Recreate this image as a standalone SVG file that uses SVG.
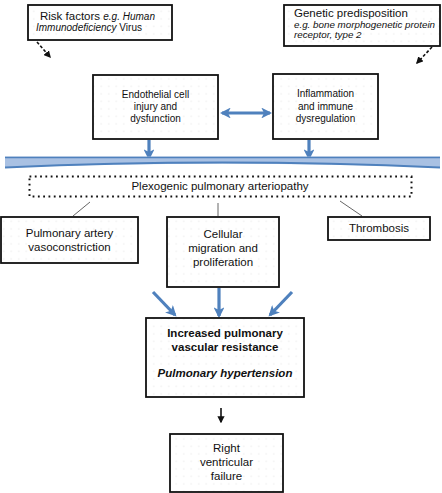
<svg xmlns="http://www.w3.org/2000/svg" width="442" height="493" viewBox="0 0 442 493">
<style>
text{font-family:"Liberation Sans",Arial,sans-serif;fill:#111;}
.box{fill:url(#dots);stroke:#111;stroke-width:1.8;}
.t{font-size:11.5px;text-anchor:middle;}
.s{font-size:10px;text-anchor:middle;}
.b{font-weight:bold;}
.i{font-style:italic;}
.blue{stroke:#4f81bd;stroke-width:3.2;fill:none;}
.thin{stroke:#666;stroke-width:1;fill:none;}
.dash{stroke:#111;stroke-width:1.6;stroke-dasharray:3 2;fill:none;}
</style>
<defs>
<pattern id="dots" width="7.5" height="7.5" patternUnits="userSpaceOnUse">
<rect width="7.5" height="7.5" fill="#fff"/>
<circle cx="3.75" cy="3.75" r="0.5" fill="#d6d6d6"/>
</pattern>
<marker id="bh" viewBox="0 0 10 10" refX="8" refY="5" markerWidth="3.4" markerHeight="3.4" orient="auto-start-reverse" markerUnits="strokeWidth">
<path d="M0,0 L10,5 L0,10 L2.5,5 Z" fill="#4f81bd"/>
</marker>
<marker id="kh" viewBox="0 0 10 10" refX="8" refY="5" markerWidth="4.5" markerHeight="4.5" orient="auto" markerUnits="strokeWidth">
<path d="M0,0 L10,5 L0,10 Z" fill="#111"/>
</marker>
</defs>

<g id="connectors">
<line class="dash" x1="37" y1="42" x2="50" y2="57" marker-end="url(#kh)"/>
<line class="dash" x1="432" y1="47" x2="417" y2="63" marker-end="url(#kh)"/>
<line class="blue" x1="222" y1="113" x2="270" y2="113" marker-start="url(#bh)" marker-end="url(#bh)"/>
<line class="blue" x1="149" y1="140" x2="149" y2="158" marker-end="url(#bh)"/>
<line class="blue" x1="309" y1="140" x2="309" y2="158" marker-end="url(#bh)"/>
<line class="thin" x1="90" y1="202" x2="73" y2="216"/>
<line class="thin" x1="218" y1="203" x2="218" y2="216"/>
<line class="thin" x1="340" y1="201" x2="362" y2="216"/>
<line class="blue" x1="153" y1="292" x2="175" y2="315" marker-end="url(#bh)"/>
<line class="blue" x1="219" y1="288" x2="219" y2="316" marker-end="url(#bh)"/>
<line class="blue" x1="292" y1="292" x2="270" y2="315" marker-end="url(#bh)"/>
<line x1="221" y1="408" x2="221" y2="422" stroke="#111" stroke-width="1.6" marker-end="url(#kh)"/>
</g>

<g id="band">
<path d="M5,156.5 L440,156.5 L440,167 Q222,160 5,167 Z" fill="#a9c1e3"/>
<line x1="5" y1="157.5" x2="440" y2="157.5" stroke="#4f81bd" stroke-width="1.6"/>
<path d="M5,167.5 Q222,157.5 440,167.5" stroke="#4f81bd" stroke-width="2" fill="none"/>
</g>

<g id="risk">
<rect class="box" x="28" y="5" width="144" height="35"/>
<text x="40" y="20" style="font-size:11.5px">Risk factors <tspan class="i" style="font-size:10px">e.g. Human</tspan></text>
<text x="36" y="31" style="font-size:10px"><tspan class="i">Immunodeficiency</tspan> Virus</text>
</g>

<g id="genetic">
<rect class="box" x="284" y="5" width="156" height="41"/>
<text x="294" y="17" style="font-size:11.5px">Genetic predisposition</text>
<text x="294" y="27.5" class="i" style="font-size:9.8px">e.g. bone morphogenetic protein</text>
<text x="294" y="37.5" class="i" style="font-size:9.8px">receptor, type 2</text>
</g>

<g id="endothelial">
<rect class="box" x="93" y="75" width="125" height="64"/>
<text class="s" x="155.5" y="98">Endothelial cell</text>
<text class="s" x="155.5" y="110">injury and</text>
<text class="s" x="155.5" y="122">dysfunction</text>
</g>

<g id="inflammation">
<rect class="box" x="273" y="74" width="105" height="65"/>
<text class="s" x="325.5" y="97">Inflammation</text>
<text class="s" x="325.5" y="109.5">and immune</text>
<text class="s" x="325.5" y="122">dysregulation</text>
</g>

<g id="plexogenic">
<rect x="29.5" y="176.5" width="382" height="20" fill="none" stroke="#111" stroke-width="2" stroke-dasharray="1.8 3.5"/>
<text class="t" x="220" y="190">Plexogenic pulmonary arteriopathy</text>
</g>

<g id="vasoconstriction">
<rect class="box" x="1" y="217" width="137" height="46"/>
<text class="t" x="69.5" y="237">Pulmonary artery</text>
<text class="t" x="69.5" y="251">vasoconstriction</text>
</g>

<g id="cellular">
<rect class="box" x="167" y="217" width="112" height="70"/>
<text class="t" x="223" y="238">Cellular</text>
<text class="t" x="223" y="252">migration and</text>
<text class="t" x="223" y="266">proliferation</text>
</g>

<g id="thrombosis">
<rect class="box" x="328" y="217" width="102" height="23"/>
<text class="t" x="379" y="232">Thrombosis</text>
</g>

<g id="pvr">
<rect class="box" x="146" y="318" width="158" height="79"/>
<text class="t b" x="225" y="337">Increased pulmonary</text>
<text class="t b" x="225" y="351">vascular resistance</text>
<text class="t b i" x="225" y="377">Pulmonary hypertension</text>
</g>

<g id="rvf">
<rect class="box" x="170" y="434" width="113" height="58"/>
<text class="t" x="226.5" y="452">Right</text>
<text class="t" x="226.5" y="466">ventricular</text>
<text class="t" x="226.5" y="480">failure</text>
</g>
</svg>
